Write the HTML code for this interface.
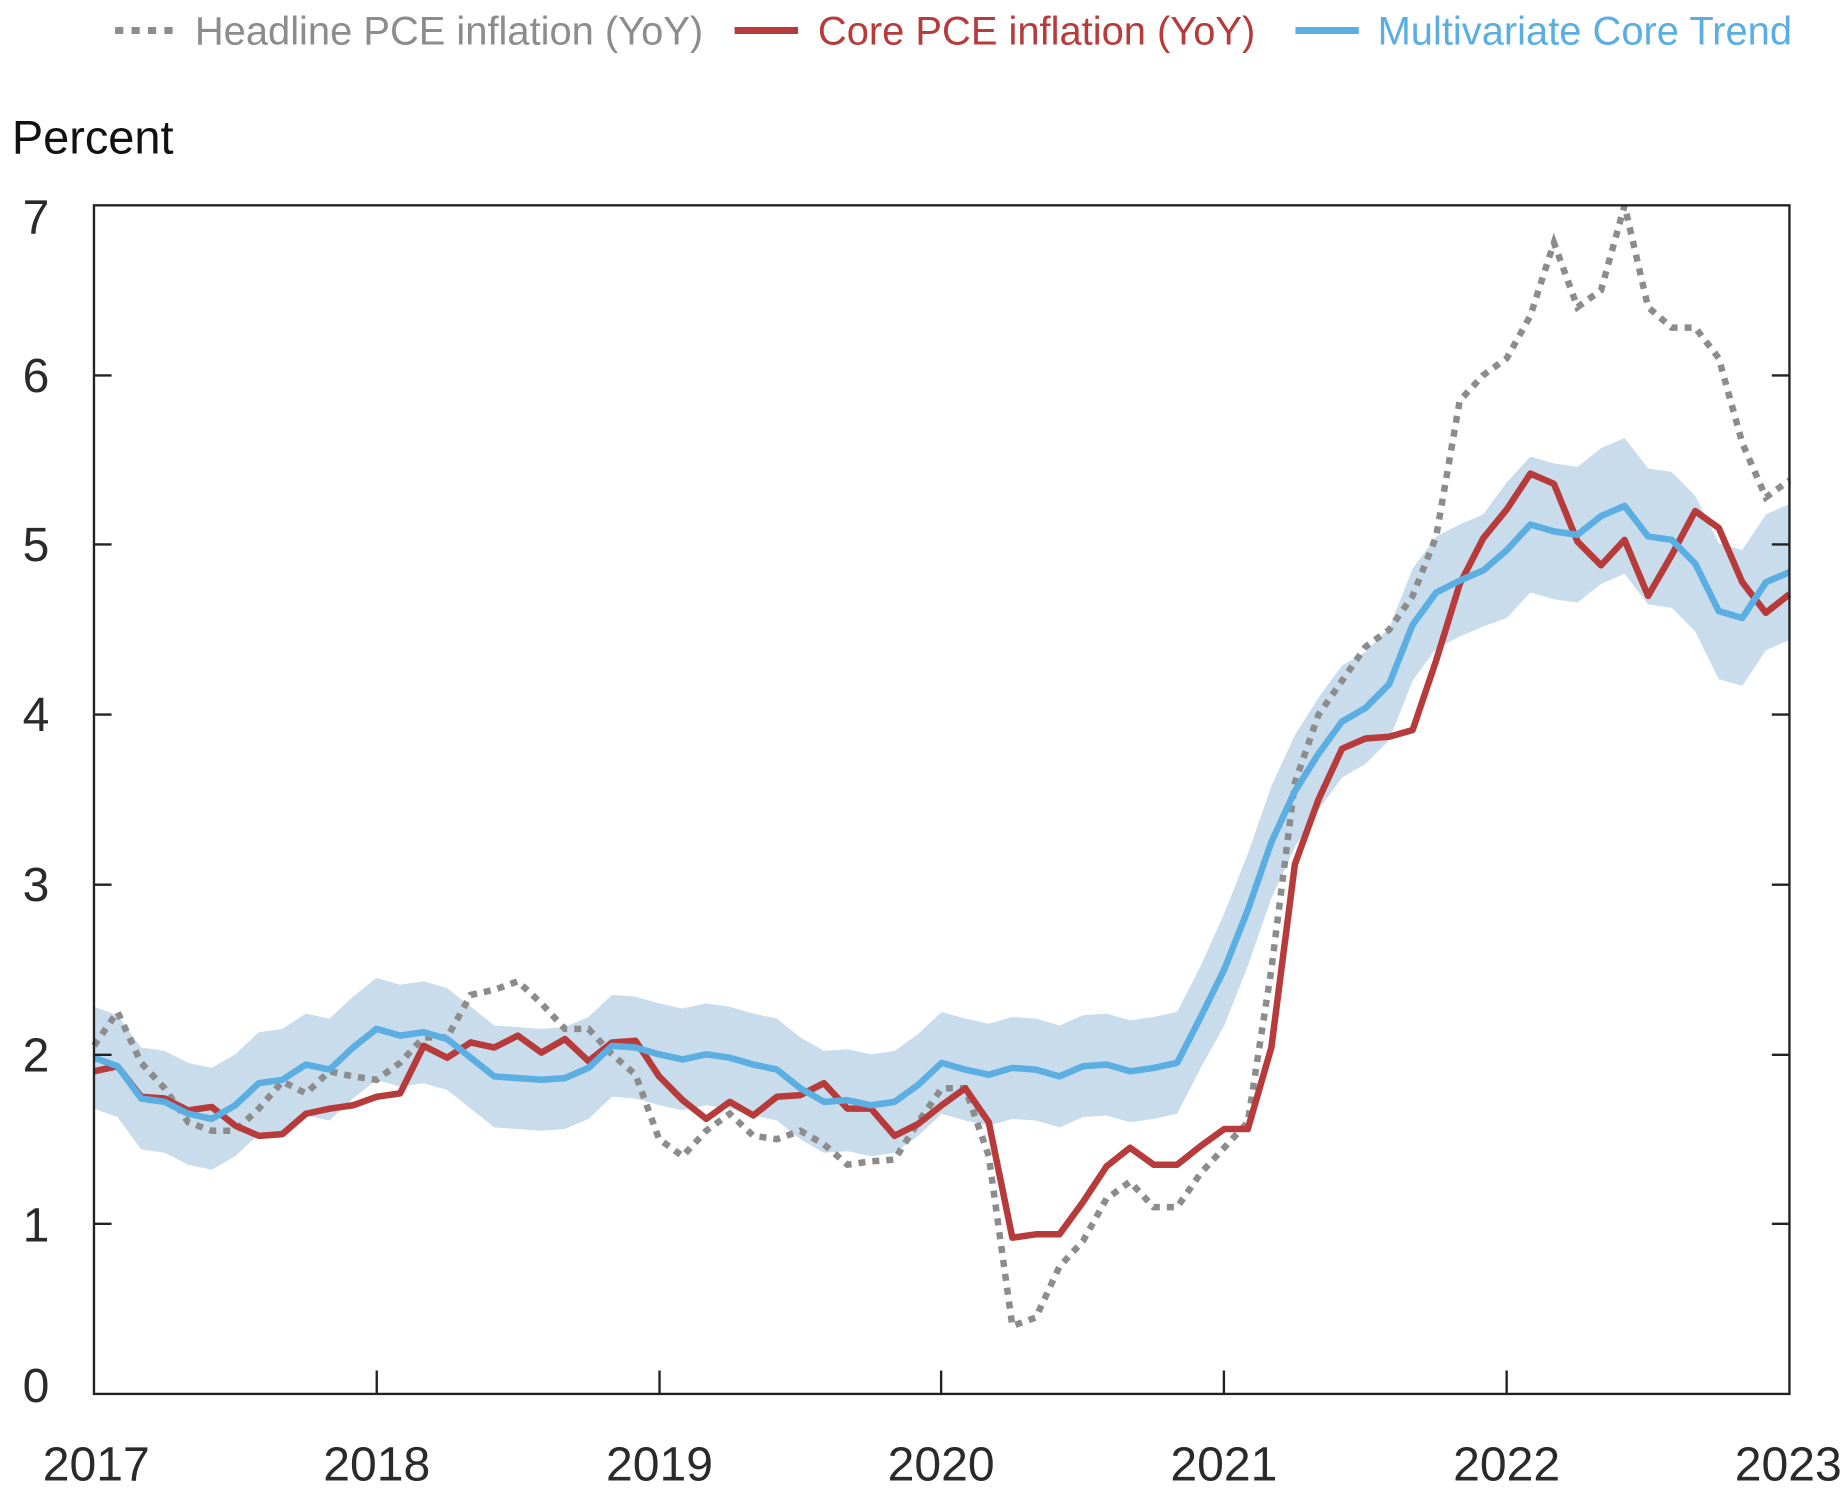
<!DOCTYPE html>
<html><head><meta charset="utf-8"><style>
html,body{margin:0;padding:0;background:#fff;}
svg{display:block;}
text{font-family:"Liberation Sans",Arial,sans-serif;}
</style></head><body>
<svg width="1840" height="1496" viewBox="0 0 1568 1275" xmlns="http://www.w3.org/2000/svg">
<rect width="1568" height="1275" fill="#fff"/>
<g transform="translate(80,1188) scale(20.069,-144.714)">
<polygon fill="#c9dcec" points="0,2.28 1,2.23 2,2.04 3,2.02 4,1.95 5,1.92 6,2.00 7,2.13 8,2.15 9,2.24 10,2.21 11,2.34 12,2.45 13,2.41 14,2.43 15,2.39 16,2.28 17,2.17 18,2.16 19,2.15 20,2.16 21,2.22 22,2.35 23,2.34 24,2.30 25,2.27 26,2.30 27,2.28 28,2.24 29,2.21 30,2.10 31,2.02 32,2.03 33,2.00 34,2.02 35,2.12 36,2.25 37,2.21 38,2.18 39,2.22 40,2.21 41,2.17 42,2.23 43,2.24 44,2.20 45,2.22 46,2.25 47,2.52 48,2.83 49,3.18 50,3.58 51,3.88 52,4.10 53,4.29 54,4.37 55,4.51 56,4.86 57,5.05 58,5.12 59,5.18 60,5.37 61,5.52 62,5.48 63,5.46 64,5.57 65,5.63 66,5.45 67,5.43 68,5.29 69,5.01 70,4.97 71,5.18 72,5.24 72,4.44 71,4.38 70,4.17 69,4.21 68,4.49 67,4.63 66,4.65 65,4.83 64,4.77 63,4.66 62,4.68 61,4.72 60,4.57 59,4.52 58,4.46 57,4.39 56,4.20 55,3.85 54,3.71 53,3.63 52,3.44 51,3.22 50,2.92 49,2.52 48,2.17 47,1.92 46,1.65 45,1.62 44,1.60 43,1.64 42,1.63 41,1.57 40,1.61 39,1.62 38,1.58 37,1.61 36,1.65 35,1.52 34,1.42 33,1.40 32,1.43 31,1.42 30,1.50 29,1.61 28,1.64 27,1.68 26,1.70 25,1.67 24,1.70 23,1.74 22,1.75 21,1.62 20,1.56 19,1.55 18,1.56 17,1.57 16,1.68 15,1.79 14,1.83 13,1.81 12,1.85 11,1.74 10,1.61 9,1.64 8,1.55 7,1.53 6,1.40 5,1.32 4,1.35 3,1.42 2,1.44 1,1.63 0,1.68"/>
<polyline fill="none" stroke="#8c8c8c" stroke-width="6.5" stroke-dasharray="7,7" vector-effect="non-scaling-stroke" points="0,2.05 1,2.25 2,1.95 3,1.80 4,1.60 5,1.55 6,1.55 7,1.68 8,1.84 9,1.77 10,1.90 11,1.87 12,1.85 13,1.95 14,2.10 15,2.10 16,2.35 17,2.38 18,2.43 19,2.30 20,2.15 21,2.15 22,2.00 23,1.88 24,1.50 25,1.40 26,1.55 27,1.65 28,1.52 29,1.50 30,1.55 31,1.47 32,1.35 33,1.37 34,1.38 35,1.60 36,1.80 37,1.80 38,1.40 39,0.40 40,0.45 41,0.75 42,0.90 43,1.15 44,1.25 45,1.10 46,1.10 47,1.30 48,1.45 49,1.60 50,2.50 51,3.60 52,4.00 53,4.20 54,4.40 55,4.50 56,4.70 57,5.05 58,5.85 59,6.00 60,6.10 61,6.35 62,6.78 63,6.40 64,6.50 65,7.00 66,6.40 67,6.28 68,6.28 69,6.10 70,5.60 71,5.28 72,5.38"/>
<polyline fill="none" stroke="#b73b3b" stroke-width="6.5" stroke-linejoin="round" vector-effect="non-scaling-stroke" points="0,1.9 1,1.93 2,1.75 3,1.74 4,1.67 5,1.69 6,1.58 7,1.52 8,1.53 9,1.65 10,1.68 11,1.70 12,1.75 13,1.77 14,2.05 15,1.98 16,2.07 17,2.04 18,2.11 19,2.01 20,2.09 21,1.96 22,2.07 23,2.08 24,1.87 25,1.73 26,1.62 27,1.72 28,1.64 29,1.75 30,1.76 31,1.83 32,1.68 33,1.68 34,1.52 35,1.59 36,1.70 37,1.80 38,1.60 39,0.92 40,0.94 41,0.94 42,1.13 43,1.34 44,1.45 45,1.35 46,1.35 47,1.46 48,1.56 49,1.56 50,2.04 51,3.12 52,3.50 53,3.80 54,3.86 55,3.87 56,3.91 57,4.32 58,4.77 59,5.04 60,5.21 61,5.42 62,5.36 63,5.02 64,4.88 65,5.03 66,4.70 67,4.94 68,5.20 69,5.10 70,4.78 71,4.60 72,4.71"/>
<polyline fill="none" stroke="#5aaee2" stroke-width="6.5" stroke-linejoin="round" vector-effect="non-scaling-stroke" points="0,1.98 1,1.93 2,1.74 3,1.72 4,1.65 5,1.62 6,1.70 7,1.83 8,1.85 9,1.94 10,1.91 11,2.04 12,2.15 13,2.11 14,2.13 15,2.09 16,1.98 17,1.87 18,1.86 19,1.85 20,1.86 21,1.92 22,2.05 23,2.04 24,2.00 25,1.97 26,2.00 27,1.98 28,1.94 29,1.91 30,1.80 31,1.72 32,1.73 33,1.70 34,1.72 35,1.82 36,1.95 37,1.91 38,1.88 39,1.92 40,1.91 41,1.87 42,1.93 43,1.94 44,1.90 45,1.92 46,1.95 47,2.22 48,2.50 49,2.85 50,3.25 51,3.55 52,3.77 53,3.96 54,4.04 55,4.18 56,4.53 57,4.72 58,4.79 59,4.85 60,4.97 61,5.12 62,5.08 63,5.06 64,5.17 65,5.23 66,5.05 67,5.03 68,4.89 69,4.61 70,4.57 71,4.78 72,4.84"/>
</g>
<g stroke="#222" stroke-width="2" fill="none">
<rect x="80" y="175" width="1445" height="1013"/>
<path d="M80 1043h15M80 899h15M80 754h15M80 609h15M80 464h15M80 320h15M1510 1043h15M1510 899h15M1510 754h15M1510 609h15M1510 464h15M1510 320h15M321 1188v-20M562 1188v-20M802 1188v-20M1043 1188v-20M1284 1188v-20"/>
</g>
<g font-size="41" fill="#2a2a2a" text-anchor="end">
<text x="42" y="1195">0</text><text x="42" y="1058">1</text><text x="42" y="913">2</text><text x="42" y="768">3</text><text x="42" y="623">4</text><text x="42" y="478">5</text><text x="42" y="334">6</text><text x="42" y="199">7</text>
</g>
<g font-size="41" fill="#2a2a2a" text-anchor="middle">
<text x="82" y="1262">2017</text><text x="321" y="1262">2018</text><text x="562" y="1262">2019</text><text x="802" y="1262">2020</text><text x="1043" y="1262">2021</text><text x="1284" y="1262">2022</text><text x="1524" y="1262">2023</text>
</g>
<text x="10" y="131" font-size="40" fill="#111">Percent</text>
<g font-size="34">
<line x1="98" y1="26" x2="150" y2="26" stroke="#8c8c8c" stroke-width="6" stroke-dasharray="7,7"/>
<text x="166" y="38" fill="#8c8c8c">Headline PCE inflation (YoY)</text>
<line x1="626" y1="26" x2="680" y2="26" stroke="#b73b3b" stroke-width="6"/>
<text x="697" y="38" fill="#b73b3b">Core PCE inflation (YoY)</text>
<line x1="1104" y1="26" x2="1158" y2="26" stroke="#5aaee2" stroke-width="6"/>
<text x="1174" y="38" fill="#5aaee2">Multivariate Core Trend</text>
</g>
</svg>
</body></html>
